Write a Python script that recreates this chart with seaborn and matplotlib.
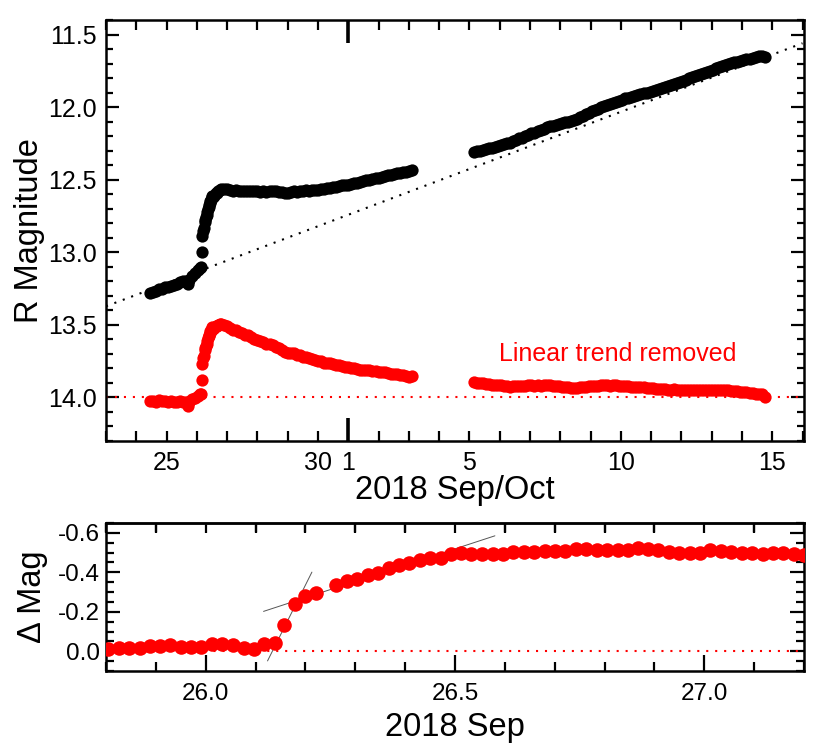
import numpy as np
import pandas as pd
import matplotlib
matplotlib.use('Agg')
import matplotlib.pyplot as plt
import seaborn as sns
from matplotlib.ticker import MultipleLocator, FixedLocator, FormatStrFormatter, FuncFormatter

# time axis: day of 2018 Sep (Oct 1 = 31)
seg1_t = [24.45, 24.55, 24.65, 24.75, 24.85, 24.95, 25.05, 25.15, 25.25, 25.35,
          25.45, 25.55, 25.65, 25.70, 25.75, 25.85, 25.95, 26.05, 26.10, 26.14,
          26.16, 26.18, 26.20, 26.22, 26.26, 26.28, 26.30, 26.32, 26.35, 26.37,
          26.39, 26.41, 26.43, 26.45, 26.47, 26.49, 26.51, 26.53, 26.55, 26.58,
          26.62, 26.66, 26.70, 26.75, 26.80,
          26.9, 27.0, 27.1, 27.2, 27.3, 27.4, 27.5, 27.6, 27.7, 27.8, 27.9,
          28.0, 28.1, 28.2, 28.3, 28.4, 28.5, 28.6, 28.7, 28.8, 28.9,
          29.0, 29.1, 29.2, 29.3, 29.4, 29.5, 29.6, 29.7, 29.8, 29.9,
          30.0, 30.1, 30.2, 30.3, 30.4, 30.5, 30.6, 30.7, 30.8, 30.9,
          31.0, 31.1, 31.2, 31.3, 31.4, 31.5, 31.6, 31.7, 31.8, 31.9,
          32.0, 32.1, 32.2, 32.3, 32.4, 32.5, 32.6, 32.7, 32.8, 32.9,
          33.0, 33.1]
seg1_mag = [13.280, 13.275, 13.270, 13.255, 13.250, 13.240, 13.240, 13.230, 13.225, 13.220,
            13.205, 13.200, 13.195, 13.220, 13.190, 13.160, 13.140, 13.120, 13.105, 13.100,
            13.000, 12.890, 12.850, 12.830, 12.790, 12.775, 12.760, 12.745, 12.720, 12.700,
            12.685, 12.675, 12.660, 12.645, 12.640, 12.620, 12.610, 12.620, 12.615, 12.610,
            12.595, 12.590, 12.580, 12.570, 12.565,
            12.565, 12.565, 12.570, 12.575, 12.570, 12.575, 12.575, 12.580, 12.575, 12.578, 12.580,
            12.580, 12.582, 12.580, 12.585, 12.580, 12.578, 12.580, 12.585, 12.588, 12.593,
            12.592, 12.585, 12.580, 12.582, 12.575, 12.578, 12.572, 12.575, 12.570, 12.572,
            12.568, 12.565, 12.565, 12.560, 12.555, 12.552, 12.548, 12.545, 12.540, 12.538,
            12.535, 12.530, 12.525, 12.520, 12.518, 12.512, 12.505, 12.500, 12.495, 12.490,
            12.488, 12.480, 12.475, 12.470, 12.468, 12.460, 12.455, 12.452, 12.448, 12.445,
            12.440, 12.432]

seg2_t = [35.15, 35.25, 35.35, 35.45, 35.55, 35.65, 35.75, 35.85, 35.95,
          36.05, 36.15, 36.25, 36.35, 36.45, 36.55, 36.65, 36.75, 36.85, 36.95,
          37.05, 37.15, 37.25, 37.35, 37.45, 37.55, 37.65, 37.75, 37.85, 37.95,
          38.05, 38.15, 38.25, 38.35, 38.45, 38.55, 38.65, 38.75, 38.85, 38.95,
          39.05, 39.15, 39.25, 39.35, 39.45, 39.55, 39.65, 39.75, 39.85, 39.95,
          40.05, 40.15, 40.25, 40.35, 40.45, 40.55, 40.65, 40.75, 40.85, 40.95,
          41.05, 41.15, 41.25, 41.35, 41.45, 41.55, 41.65, 41.75, 41.85, 41.95,
          42.05, 42.15, 42.25, 42.35, 42.45, 42.55, 42.65, 42.75, 42.85, 42.95,
          43.05, 43.15, 43.25, 43.35, 43.45, 43.55, 43.65, 43.75, 43.85, 43.95,
          44.05, 44.15, 44.25, 44.35, 44.45, 44.55, 44.65, 44.75]
seg2_mag = [12.310, 12.305, 12.300, 12.295, 12.290, 12.285, 12.280, 12.275, 12.265,
            12.260, 12.255, 12.250, 12.245, 12.235, 12.225, 12.215, 12.210, 12.200, 12.190,
            12.180, 12.175, 12.165, 12.160, 12.150, 12.140, 12.132, 12.128, 12.122, 12.118,
            12.112, 12.105, 12.100, 12.095, 12.088, 12.080, 12.070, 12.062, 12.050, 12.040,
            12.030, 12.020, 12.012, 12.000, 11.990, 11.985, 11.978, 11.970, 11.962, 11.955,
            11.948, 11.940, 11.935, 11.930, 11.925, 11.918, 11.910, 11.905, 11.900, 11.894,
            11.888, 11.882, 11.877, 11.870, 11.863, 11.856, 11.848, 11.840, 11.833, 11.825,
            11.818, 11.810, 11.802, 11.795, 11.786, 11.779, 11.771, 11.763, 11.756, 11.749,
            11.741, 11.733, 11.724, 11.716, 11.710, 11.704, 11.698, 11.692, 11.687, 11.682,
            11.677, 11.671, 11.666, 11.661, 11.655, 11.650, 11.645, 11.658]

# linear trend (dotted line) and the baseline the detrended curve is shifted to
trend_t = [23.0, 46.0]
trend_mag = [13.372, 11.560]
baseline = 14.0

# zoom on the outburst onset: delta mag of the detrended curve
zoom_t = [25.804, 25.826, 25.846, 25.868, 25.888, 25.908, 25.928, 25.950, 25.970, 25.991,
          26.012, 26.033, 26.055, 26.076, 26.096, 26.117, 26.138, 26.158, 26.180, 26.200,
          26.222, 26.262, 26.284, 26.304, 26.325, 26.346, 26.367, 26.388, 26.408, 26.429,
          26.449, 26.471, 26.492, 26.513, 26.533, 26.554, 26.576, 26.596, 26.616, 26.638,
          26.659, 26.680, 26.701, 26.721, 26.742, 26.763, 26.784, 26.804, 26.826, 26.846,
          26.867, 26.888, 26.908, 26.929, 26.950, 26.972, 26.992, 27.012, 27.033, 27.054,
          27.075, 27.096, 27.117, 27.138, 27.158, 27.179, 27.199]
zoom_dmag = [-0.010, -0.015, -0.018, -0.015, -0.027, -0.027, -0.031, -0.023, -0.023, -0.023,
             -0.036, -0.036, -0.031, -0.018, -0.013, -0.037, -0.041, -0.133, -0.240, -0.278,
             -0.294, -0.338, -0.355, -0.368, -0.386, -0.398, -0.420, -0.437, -0.449, -0.462,
             -0.474, -0.471, -0.493, -0.500, -0.493, -0.491, -0.491, -0.491, -0.505, -0.505,
             -0.505, -0.508, -0.508, -0.506, -0.517, -0.517, -0.512, -0.512, -0.512, -0.512,
             -0.522, -0.517, -0.512, -0.505, -0.500, -0.500, -0.500, -0.512, -0.508, -0.505,
             -0.500, -0.500, -0.491, -0.500, -0.500, -0.495, -0.488]

# thin guide lines through the onset
steep_t = [26.124, 26.213]
steep_dmag = [0.049, -0.401]
slow_t = [26.116, 26.580]
slow_dmag = [-0.202, -0.585]

month_labels = {25: '25', 30: '30', 35: '5', 40: '10', 45: '15'}

RED = '#ff0000'


def style_axis(ax, lab_size):
    ax.tick_params(which='both', direction='in', top=True, right=True,
                   width=1.6, labelsize=lab_size, colors='black')
    for sp in ax.spines.values():
        sp.set_linewidth(1.8)
        sp.set_color('black')


def main():
    sns.set_theme(style='ticks')
    plt.rcParams['font.family'] = ['Liberation Sans', 'DejaVu Sans']
    plt.rcParams['axes.unicode_minus'] = False
    plt.rcParams['text.color'] = 'black'
    plt.rcParams['axes.labelcolor'] = 'black'

    lc = pd.DataFrame({'t': seg1_t + seg2_t, 'mag': seg1_mag + seg2_mag})
    lc['detrended'] = lc['mag'] - np.interp(lc['t'], trend_t, trend_mag) + baseline
    zoom = pd.DataFrame({'t': zoom_t, 'dmag': zoom_dmag})

    fig = plt.figure(figsize=(8.3, 7.55), dpi=100)
    ax1 = fig.add_axes([0.1277, 0.4159, 0.841, 0.5576])
    ax2 = fig.add_axes([0.1277, 0.1113, 0.841, 0.196])

    # ---- top panel ----
    ax1.plot(trend_t, trend_mag, color='black', lw=1.5, dashes=(1, 3.3), zorder=1)
    ax1.axhline(baseline, color=RED, lw=1.5, dashes=(1, 3.3), zorder=1)
    sns.scatterplot(data=lc, x='t', y='mag', color='black', s=78, linewidth=0,
                    ax=ax1, zorder=3, legend=False)
    sns.scatterplot(data=lc, x='t', y='detrended', color=RED, s=78, linewidth=0,
                    ax=ax1, zorder=3, legend=False)
    ax1.text(39.9, 13.70, 'Linear trend removed', color=RED, fontsize=18,
             ha='center', va='center')

    ax1.set_xlim(23, 46.05)
    ax1.set_ylim(14.3, 11.4)
    style_axis(ax1, 18)
    ax1.xaxis.set_major_locator(FixedLocator([31]))
    ax1.xaxis.set_major_formatter(FuncFormatter(lambda v, p: '1'))
    ax1.xaxis.set_minor_locator(MultipleLocator(1))
    ax1.xaxis.set_minor_formatter(FuncFormatter(lambda v, p: month_labels.get(int(round(v)), '')))
    ax1.tick_params(axis='x', which='major', length=16.5, width=2.6, pad=7)
    ax1.tick_params(axis='x', which='minor', length=7.2, pad=7, labelsize=18)
    ax1.yaxis.set_major_locator(MultipleLocator(0.5))
    ax1.yaxis.set_minor_locator(MultipleLocator(0.1))
    ax1.yaxis.set_major_formatter(FormatStrFormatter('%.1f'))
    ax1.tick_params(axis='y', which='major', length=9.5, pad=6.5)
    ax1.tick_params(axis='y', which='minor', length=5)
    ax1.set_xlabel('2018 Sep/Oct', fontsize=23.5)
    ax1.set_ylabel('R Magnitude', fontsize=23.5)
    ax1.xaxis.set_label_coords(0.5, -0.081)
    ax1.yaxis.set_label_coords(-0.087, 0.5)

    # ---- bottom panel ----
    ax2.plot(steep_t, steep_dmag, color='#555555', lw=0.7, zorder=1)
    ax2.plot(slow_t, slow_dmag, color='#555555', lw=0.7, zorder=1)
    ax2.axhline(0.0, color=RED, lw=1.5, dashes=(1, 3.3), zorder=1)
    sns.scatterplot(data=zoom, x='t', y='dmag', color=RED, s=110, linewidth=0,
                    ax=ax2, zorder=3, legend=False)

    ax2.set_xlim(25.8, 27.2)
    ax2.set_ylim(0.1, -0.65)
    style_axis(ax2, 17.5)
    ax2.tick_params(axis='x', top=False)
    ax2.xaxis.set_major_locator(MultipleLocator(0.5))
    ax2.xaxis.set_minor_locator(MultipleLocator(0.1))
    ax2.xaxis.set_major_formatter(FormatStrFormatter('%.1f'))
    ax2.tick_params(axis='x', which='major', length=11.5, pad=9)
    ax2.tick_params(axis='x', which='minor', length=6.5)
    ax2.yaxis.set_major_locator(MultipleLocator(0.2))
    ax2.yaxis.set_minor_locator(MultipleLocator(0.05))
    ax2.yaxis.set_major_formatter(FormatStrFormatter('%.1f'))
    ax2.tick_params(axis='y', which='major', length=10, pad=4.5)
    ax2.tick_params(axis='y', which='minor', length=5.5)
    top = ax2.secondary_xaxis('top')
    top.set_xticks(np.round(np.arange(25.8, 27.21, 0.1), 1))
    top.tick_params(direction='in', length=7, width=1.6, labeltop=False, colors='black')
    top.spines['top'].set_linewidth(1.8)
    ax2.set_xlabel('2018 Sep', fontsize=23.5)
    ax2.set_ylabel('\u0394 Mag', fontsize=23.5)
    ax2.xaxis.set_label_coords(0.5, -0.28)
    ax2.yaxis.set_label_coords(-0.083, 0.5)

    fig.savefig('out.png', dpi=100)
    plt.close(fig)


if __name__ == '__main__':
    main()
